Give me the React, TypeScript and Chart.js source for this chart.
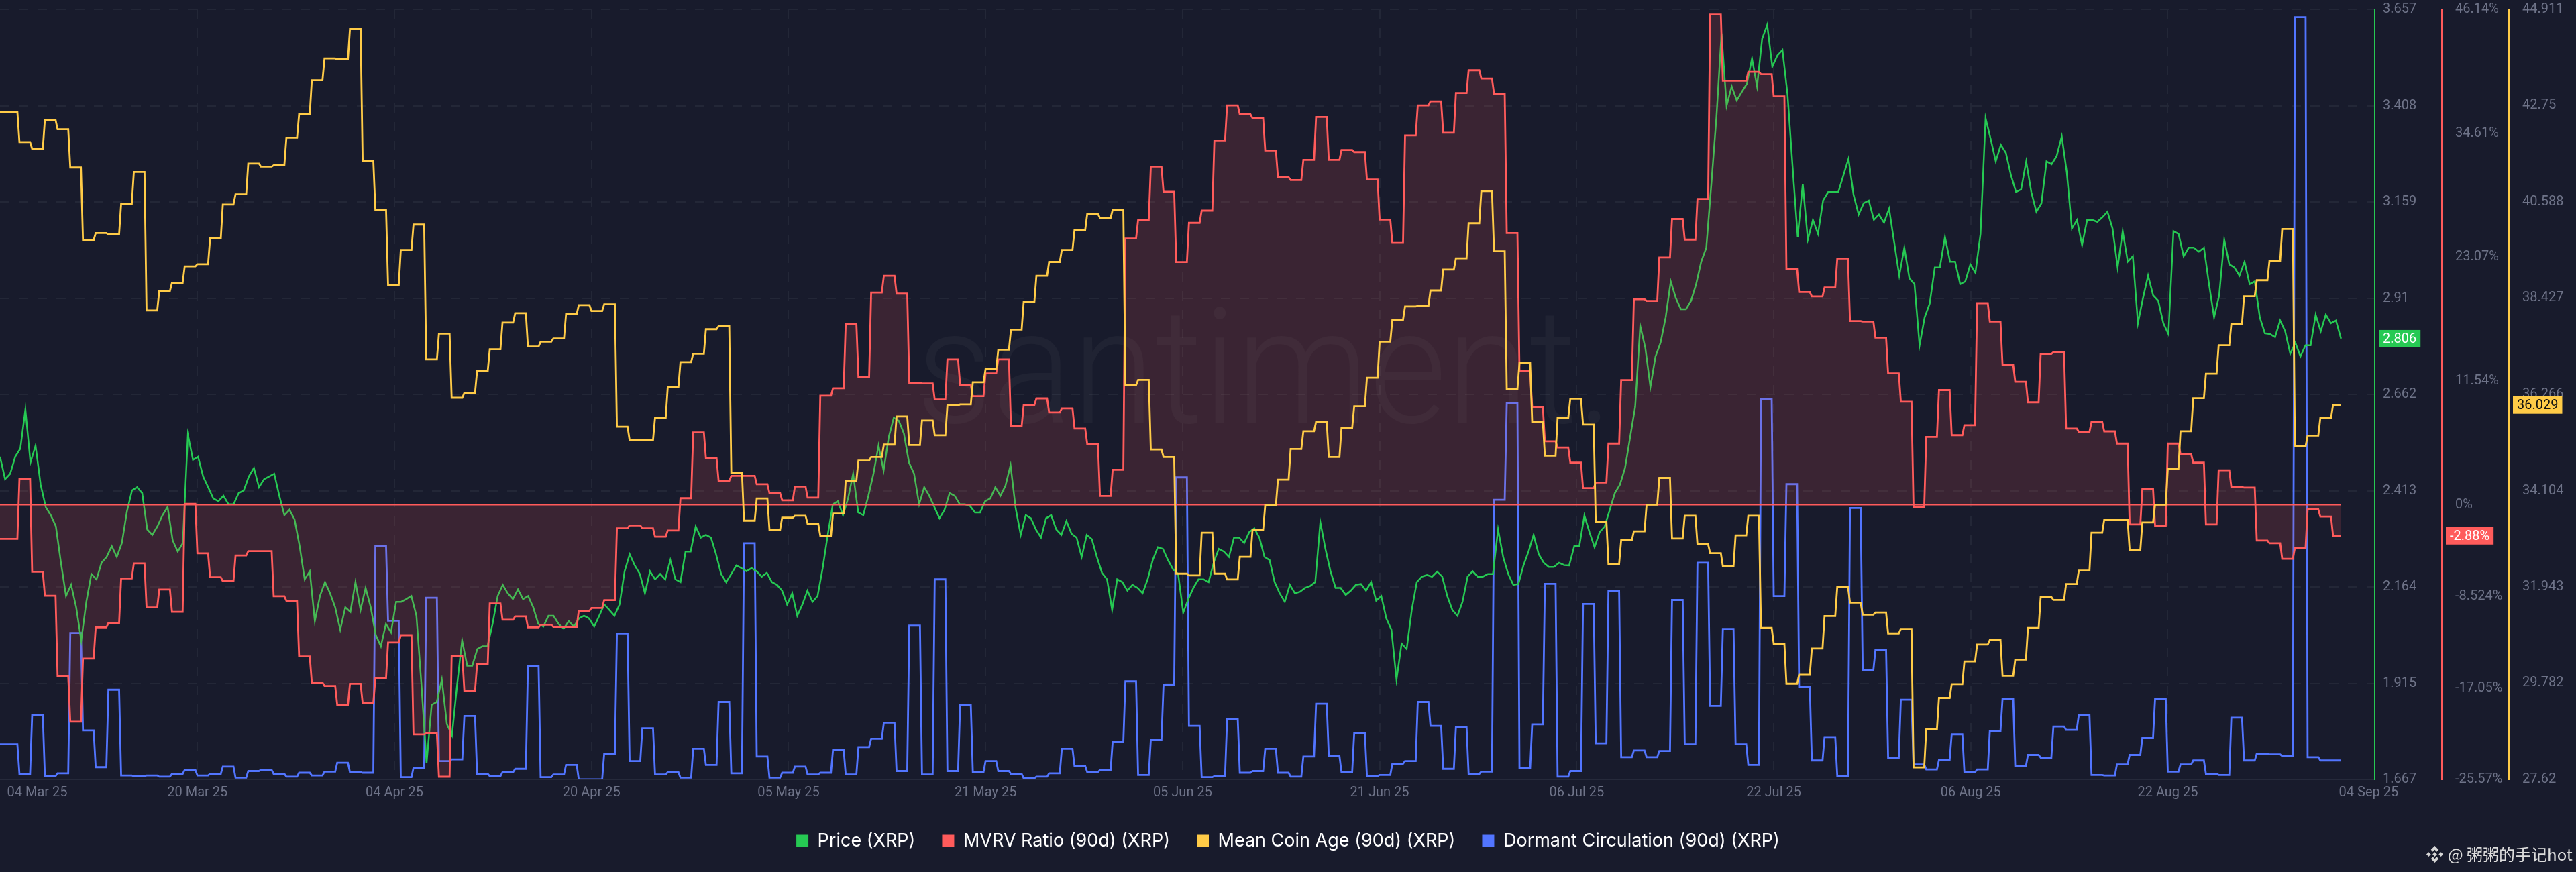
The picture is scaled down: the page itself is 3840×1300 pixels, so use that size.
import React, { useEffect, useRef } from 'react';
import { Chart, registerables } from 'chart.js';

Chart.register(...registerables);

const BG = '#181b2c';
const GREEN = '#26c953';
const RED = '#ff5b5b';
const YELLOW = '#ffcb47';
const BLUE = '#5275ff';
const TICK = '#6e7388';
const GRID = '#232737';
const FONT = 'Roboto, "Liberation Sans", sans-serif';

const seriesNames = ['Price (XRP)', 'MVRV Ratio (90d) (XRP)', 'Mean Coin Age (90d) (XRP)', 'Dormant Circulation (90d) (XRP)'];
const seriesColors = [GREEN, RED, YELLOW, BLUE];

// x axis is in days from the start of the window
const xTickDays = [3.4, 16, 31.5, 47, 62.5, 78, 93.5, 109, 124.5, 140, 155.5, 171, 186.8];
const xTickLabels = ['04 Mar 25', '20 Mar 25', '04 Apr 25', '20 Apr 25', '05 May 25', '21 May 25', '05 Jun 25', '21 Jun 25', '06 Jul 25', '22 Jul 25', '06 Aug 25', '22 Aug 25', '04 Sep 25'];

const priceTicks = [1.667, 1.915, 2.164, 2.413, 2.662, 2.91, 3.159, 3.408, 3.657];
const mvrvTicks = [-25.57, -17.05, -8.524, 0, 11.54, 23.07, 34.61, 46.14];
const mvrvTickLabels = ['-25.57%', '-17.05%', '-8.524%', '0%', '11.54%', '23.07%', '34.61%', '46.14%'];
const ageTicks = [27.62, 29.782, 31.943, 34.104, 36.266, 38.427, 40.588, 42.75, 44.911];

const meanCoinAge = [
  42.61, 42.61, 41.93, 41.78, 42.43, 42.22, 41.36, 39.73, 39.89, 39.86, 40.54, 41.26, 38.15, 38.59, 38.77, 39.14, 39.19, 39.77, 40.53, 40.76,
  41.45, 41.38, 41.41, 42.03, 42.56, 43.32, 43.81, 43.79, 44.47, 41.51, 40.41, 38.72, 39.51, 40.08, 37.05, 37.63, 36.19, 36.3, 36.79, 37.28,
  37.88, 38.09, 37.34, 37.45, 37.52, 38.07, 38.27, 38.14, 38.29, 35.54, 35.24, 35.24, 35.74, 36.43, 36.99, 37.18, 37.73, 37.8, 34.51, 33.43,
  33.93, 33.23, 33.5, 33.54, 33.36, 33.09, 33.59, 34.33, 34.78, 34.86, 35.14, 35.77, 35.13, 35.68, 35.35, 36.02, 36.04, 36.54, 36.83, 37.27,
  37.72, 38.34, 38.93, 39.24, 39.51, 39.96, 40.32, 40.23, 40.41, 36.47, 36.59, 35.03, 34.86, 32.24, 32.2, 33.16, 32.24, 32.11, 32.62, 33.23,
  33.78, 34.35, 35.04, 35.44, 35.65, 34.86, 35.51, 36, 36.64, 37.45, 37.94, 38.24, 38.25, 38.6, 39.07, 39.32, 40.11, 40.83, 39.48, 36.38,
  36.97, 35.65, 34.89, 35.74, 36.17, 35.59, 33.41, 32.46, 32.99, 33.19, 33.79, 34.39, 33.03, 33.54, 32.9, 32.7, 32.41, 33.1, 33.54, 31.02,
  30.67, 29.77, 29.97, 30.56, 31.29, 31.95, 31.59, 31.32, 31.37, 30.9, 31, 27.89, 28.75, 29.45, 29.76, 30.27, 30.65, 30.75, 29.95, 30.31,
  31.02, 31.72, 31.65, 32.01, 32.31, 33.16, 33.45, 33.45, 32.77, 33.39, 33.79, 34.6, 35.44, 36.18, 36.73, 37.37, 37.85, 38.47, 38.83, 39.27,
  39.98, 35.1, 35.34, 35.74, 36.029,
];

const mvrvRatio = [
  -3.17, -3.17, 2.44, -6.23, -8.46, -15.93, -20.19, -14.32, -11.42, -11, -6.85, -5.45, -9.55, -7.89, -9.96, 0.1, -4.51, -6.75, -7.11, -4.72,
  -4.31, -4.31, -8.51, -8.93, -14.11, -16.55, -16.86, -18.63, -16.66, -18.47, -16.14, -12.82, -12.14, -21.38, -21.27, -25.32, -14.06, -17.33, -14.84, -9.18,
  -10.69, -10.38, -11.42, -11.16, -11.36, -11.36, -9.86, -9.6, -8.87, -2.18, -1.92, -2.18, -2.96, -2.39, 0.62, 6.75, 4.36, 2.23, 2.7, 2.7,
  1.92, 1.09, 0.42, 1.71, 0.67, 10.17, 10.85, 16.86, 11.88, 19.77, 21.33, 19.67, 11.36, 11.31, 9.81, 13.54, 11.16, 10.12, 12.25, 13.54,
  7.32, 9.29, 9.91, 8.61, 8.98, 7.11, 5.66, 0.83, 3.27, 24.8, 26.52, 31.5, 29.16, 22.62, 26.26, 27.4, 33.94, 37.2, 36.37, 36.01,
  33, 30.51, 30.25, 32.12, 36.12, 32.12, 33.05, 32.85, 30.3, 26.57, 24.39, 34.4, 37.2, 37.57, 34.66, 38.35, 40.47, 39.7, 38.29, 25.32,
  12.45, 9.08, 5.92, 5.34, 3.94, 1.56, 2.08, 5.71, 11.62, 19.15, 18.99, 23.04, 26.62, 24.7, 28.49, 45.66, 39.49, 39.49, 40.32, 40.11,
  38.04, 21.95, 19.82, 19.41, 20.24, 22.94, 17.12, 17.07, 15.57, 12.25, 9.6, -0.21, 6.33, 10.69, 6.49, 7.42, 18.78, 17.07, 13.02, 11.47,
  9.55, 14.06, 14.22, 7.11, 6.8, 7.73, 6.85, 5.71, -1.82, 1.5, -1.97, 5.71, 4.72, 3.94, -1.82, 3.22, 1.66, 1.61, -3.32, -3.58,
  -5.03, -4, -0.42, -1.09, -2.88,
];

// no axis in the picture for this one, so it is on a 0-100 scale
const dormantCirculation = [
  4.56, 4.56, 0.72, 8.32, 0.43, 0.8, 19.03, 6.37, 1.59, 11.65, 0.51, 0.43, 0.51, 0.36, 0.72, 1.23, 0.51, 0.72, 1.66, 0.22,
  1.09, 1.23, 0.72, 0.36, 0.87, 0.51, 1.01, 2.17, 0.94, 0.87, 30.32, 20.62, 0.29, 1.52, 23.59, 2.39, 2.6, 8.25, 0.72, 0.43,
  0.94, 1.37, 14.69, 0.29, 0.65, 1.88, 0, 0, 3.33, 18.96, 2.39, 6.66, 0.65, 0.94, 0.22, 3.98, 1.88, 10.06, 0.8, 30.68,
  2.97, 0.22, 0.87, 1.66, 0.65, 0.87, 3.84, 0.65, 4.2, 5.28, 7.38, 1.09, 19.97, 0.65, 25.98, 1.09, 9.7, 0.94, 2.39, 1.09,
  0.72, 0.14, 0.36, 0.8, 3.98, 1.74, 0.94, 1.23, 4.92, 12.74, 0.58, 5.14, 12.3, 39.22, 6.95, 0.29, 0.43, 7.81, 0.87, 1.09,
  3.98, 0.87, 0.36, 2.97, 9.84, 3.04, 0.94, 6.01, 0.43, 0.58, 2.03, 2.39, 10.06, 6.95, 1.37, 6.8, 0.72, 1.01, 36.32, 48.84,
  1.45, 7.16, 25.4, 0.36, 1.09, 22.79, 4.7, 24.46, 2.89, 3.76, 2.89, 3.69, 23.3, 4.56, 28.15, 9.55, 19.54, 4.56, 1.88, 49.42,
  23.81, 38.35, 12.01, 2.46, 5.5, 0.43, 35.24, 14.18, 16.79, 2.82, 10.35, 1.95, 1.3, 2.53, 5.86, 0.94, 1.3, 6.3, 10.49, 1.74,
  3.18, 2.82, 6.87, 6.44, 8.39, 0.58, 0.51, 1.95, 3.18, 5.43, 10.49, 1.01, 1.95, 2.46, 0.72, 0.58, 8.03, 2.46, 3.33, 3.26,
  3.04, 98.99, 2.89, 2.46, 2.46,
];

// price is sampled more often than the on-chain metrics, evenly over the window
const priceXrp = [
  2.501, 2.443, 2.457, 2.501, 2.522, 2.623, 2.486, 2.53, 2.429, 2.371, 2.35, 2.321, 2.227, 2.141, 2.17, 2.112, 2.026, 2.126, 2.198, 2.184,
  2.227, 2.242, 2.27, 2.242, 2.278, 2.36, 2.414, 2.422, 2.407, 2.313, 2.299, 2.321, 2.35, 2.371, 2.285, 2.256, 2.278, 2.558, 2.493, 2.501,
  2.45, 2.422, 2.393, 2.386, 2.4, 2.378, 2.378, 2.407, 2.414, 2.45, 2.472, 2.422, 2.443, 2.45, 2.457, 2.4, 2.35, 2.364, 2.339, 2.27,
  2.184, 2.205, 2.076, 2.141, 2.177, 2.148, 2.112, 2.054, 2.112, 2.1, 2.177, 2.105, 2.162, 2.112, 2.04, 2.011, 2.069, 2.047, 2.126, 2.126,
  2.133, 2.141, 2.09, 1.91, 1.709, 1.86, 1.867, 1.925, 1.81, 1.781, 1.91, 2.026, 1.961, 1.961, 2.004, 2.011, 2.011, 2.069, 2.141, 2.17,
  2.148, 2.133, 2.158, 2.133, 2.141, 2.112, 2.069, 2.062, 2.09, 2.09, 2.069, 2.057, 2.076, 2.062, 2.083, 2.09, 2.083, 2.062, 2.09, 2.119,
  2.105, 2.09, 2.119, 2.205, 2.249, 2.22, 2.198, 2.148, 2.205, 2.184, 2.198, 2.184, 2.234, 2.184, 2.177, 2.256, 2.256, 2.321, 2.292, 2.299,
  2.292, 2.249, 2.198, 2.177, 2.198, 2.22, 2.213, 2.205, 2.213, 2.205, 2.191, 2.201, 2.177, 2.17, 2.155, 2.119, 2.148, 2.09, 2.119, 2.155,
  2.126, 2.141, 2.213, 2.299, 2.378, 2.386, 2.35, 2.393, 2.457, 2.357, 2.35, 2.4,
  2.457, 2.53, 2.465, 2.551, 2.602, 2.594, 2.561, 2.486, 2.457, 2.378, 2.422, 2.4, 2.371, 2.342, 2.364, 2.407, 2.4, 2.378, 2.378, 2.374,
  2.357, 2.357, 2.386, 2.393, 2.422, 2.4, 2.426, 2.479, 2.368, 2.299, 2.35, 2.342, 2.313, 2.292, 2.342, 2.35, 2.313, 2.299, 2.335, 2.302,
  2.292, 2.242, 2.299, 2.288, 2.242, 2.201, 2.184, 2.105, 2.184, 2.177, 2.155, 2.17, 2.162, 2.148, 2.184, 2.234, 2.267, 2.263, 2.234, 2.21,
  2.198, 2.098, 2.133, 2.162, 2.184, 2.184, 2.177, 2.227, 2.263, 2.256, 2.242, 2.292, 2.292, 2.278, 2.306, 2.316, 2.292, 2.242, 2.234, 2.177,
  2.148, 2.126, 2.17, 2.148, 2.152, 2.162, 2.167, 2.177, 2.332, 2.263, 2.205, 2.162, 2.162, 2.144, 2.155, 2.17, 2.172, 2.155, 2.177, 2.129,
  2.141, 2.083, 2.054, 1.925, 2.018, 2.004, 2.105, 2.177, 2.191, 2.195, 2.191, 2.204, 2.191, 2.141, 2.105, 2.09, 2.126, 2.191, 2.205, 2.191,
  2.191, 2.198, 2.198, 2.313, 2.242, 2.198, 2.17, 2.172, 2.22, 2.256, 2.299, 2.249, 2.227, 2.216, 2.216, 2.227, 2.221, 2.22, 2.27, 2.27,
  2.349, 2.306, 2.267, 2.306, 2.321, 2.364, 2.407, 2.429, 2.472, 2.551, 2.63, 2.839, 2.782, 2.681, 2.76, 2.796, 2.861, 2.954, 2.911, 2.882,
  2.882, 2.904, 2.947, 3.005, 3.041, 3.206, 3.379, 3.595, 3.408, 3.458, 3.422,
  3.444, 3.465, 3.53, 3.458, 3.581, 3.617, 3.509, 3.538, 3.552, 3.437, 3.25, 3.069, 3.206, 3.062, 3.113, 3.077, 3.163, 3.185, 3.185, 3.185,
  3.228, 3.271, 3.178, 3.127, 3.156, 3.163, 3.113, 3.127, 3.106, 3.142, 3.055, 2.969, 3.041, 2.962, 2.947, 2.789, 2.861, 2.897, 2.99, 2.99,
  3.069, 3.005, 3.005, 2.947, 2.954, 2.998, 2.976, 3.077, 3.376, 3.322, 3.264, 3.307, 3.286, 3.228, 3.185, 3.192, 3.264, 3.185, 3.134, 3.156,
  3.264, 3.257, 3.278, 3.329, 3.235, 3.091, 3.113, 3.048, 3.113, 3.113, 3.108, 3.12, 3.134, 3.091, 2.99, 3.084, 3.005, 3.019, 2.846, 2.911,
  2.969, 2.918, 2.904, 2.846, 2.818, 3.084, 3.077, 3.019, 3.041, 3.041, 3.031, 3.041, 2.947, 2.861, 2.918, 3.062, 2.998, 2.99, 2.969, 3.005,
  2.947, 2.954, 2.861, 2.82, 2.818, 2.81, 2.853, 2.825, 2.767, 2.796, 2.76, 2.789, 2.789, 2.868, 2.825, 2.868, 2.846, 2.853, 2.806,
];

const X_MIN = 0.472;
const X_MAX = 187.28;
const LAST_DAY = 184.63;

// the metrics hold a daily value and move to the next one in the last part of the day
const dailySteps = (values: number[]) =>
  values.flatMap((y, i) => [
    { x: i, y },
    { x: Math.min(i + 0.84, LAST_DAY), y },
  ]);

const priceStep = (LAST_DAY - X_MIN) / (priceXrp.length - 1);
const pricePoints = priceXrp.map((y, i) => ({ x: X_MIN + i * priceStep, y }));

const lastValueBadges = [
  { scale: 'price', value: priceXrp[priceXrp.length - 1], text: '2.806', fill: GREEN, color: '#fff' },
  { scale: 'mvrv', value: mvrvRatio[mvrvRatio.length - 1], text: '-2.88%', fill: RED, color: '#fff' },
  { scale: 'age', value: meanCoinAge[meanCoinAge.length - 1], text: '36.029', fill: YELLOW, color: '#111' },
];

const santimentMark = {
  id: 'santimentMark',
  beforeDatasetsDraw(chart: Chart) {
    const { ctx } = chart;
    ctx.save();
    ctx.translate(1885, 630);
    ctx.scale(0.93, 1);
    ctx.font = `300 240px ${FONT}`;
    ctx.fillStyle = 'rgba(255,255,255,0.035)';
    ctx.textAlign = 'center';
    ctx.textBaseline = 'alphabetic';
    ctx.fillText('santiment.', 0, 0);
    ctx.restore();
  },
};

const badgePlugin = {
  id: 'lastValueBadges',
  afterDraw(chart: Chart) {
    const { ctx } = chart;
    ctx.save();
    ctx.font = `20px ${FONT}`;
    ctx.textBaseline = 'middle';
    ctx.textAlign = 'left';
    lastValueBadges.forEach((b) => {
      const scale = chart.scales[b.scale];
      const y = scale.getPixelForValue(b.value);
      const w = ctx.measureText(b.text).width + 12;
      ctx.fillStyle = b.fill;
      ctx.fillRect(scale.left + 6, y - 13, w, 26);
      ctx.fillStyle = b.color;
      ctx.fillText(b.text, scale.left + 12, y + 1);
    });
    ctx.restore();
  },
};

const yAxis = (weight: number, color: string, min: number, max: number, ticks: number[], labels?: string[]) => ({
  type: 'linear' as const,
  position: 'right' as const,
  weight,
  min,
  max,
  afterFit: (scale: any) => {
    scale.width = 100;
    // the top label may run past the plot, do not let it push the plot down
    scale.paddingTop = 0;
    scale.paddingBottom = 0;
  },
  afterBuildTicks: (scale: any) => {
    scale.ticks = ticks.map((value) => ({ value }));
  },
  grid: { display: false },
  border: { color, width: 2 },
  ticks: {
    color: TICK,
    font: { family: FONT, size: 20 },
    padding: 12,
    autoSkip: false,
    callback: (value: any, index: number) => (labels ? labels[index] : String(value)),
  },
});

const App: React.FC = () => {
  const canvasRef = useRef<HTMLCanvasElement | null>(null);

  useEffect(() => {
    if (!canvasRef.current) return;

    const chart = new Chart(canvasRef.current, {
      type: 'line',
      data: {
        datasets: [
          { label: seriesNames[0], data: pricePoints, yAxisID: 'price', borderColor: GREEN, borderWidth: 2.5, pointRadius: 0, order: 3 },
          {
            label: seriesNames[1],
            data: dailySteps(mvrvRatio),
            yAxisID: 'mvrv',
            borderColor: RED,
            backgroundColor: 'rgba(255,91,91,0.15)',
            fill: { value: 0 },
            borderWidth: 2.8,
            pointRadius: 0,
            order: 2,
          },
          { label: seriesNames[2], data: dailySteps(meanCoinAge), yAxisID: 'age', borderColor: YELLOW, borderWidth: 2.8, pointRadius: 0, order: 1 },
          { label: seriesNames[3], data: dailySteps(dormantCirculation), yAxisID: 'dormant', borderColor: BLUE, borderWidth: 2.8, pointRadius: 0, order: 4 },
          // zero line of the MVRV area
          { label: 'zero', data: [{ x: X_MIN, y: 0 }, { x: LAST_DAY, y: 0 }], yAxisID: 'mvrv', borderColor: RED, borderWidth: 1.5, pointRadius: 0, order: 2 },
        ],
      },
      options: {
        animation: false,
        responsive: false,
        devicePixelRatio: 1,
        events: [],
        layout: { padding: { top: 14, left: 0, right: 0, bottom: 23 } },
        scales: {
          x: {
            type: 'linear',
            min: X_MIN,
            max: X_MAX,
            afterFit: (scale: any) => {
              scale.height = 38;
            },
            afterBuildTicks: (scale: any) => {
              scale.ticks = xTickDays.map((value) => ({ value }));
            },
            grid: {
              drawTicks: false,
              lineWidth: 2,
              color: (c: any) => (c.index === 0 || c.index === xTickDays.length - 1 ? 'transparent' : GRID),
            },
            border: { color: '#262a3b', width: 2, dash: [14, 14] },
            ticks: {
              color: TICK,
              font: { family: FONT, size: 20 },
              padding: 8,
              autoSkip: false,
              maxRotation: 0,
              callback: (_value: any, index: number) => xTickLabels[index],
            },
          },
          price: {
            ...yAxis(1, GREEN, 1.667, 3.657, priceTicks),
            grid: { display: true, drawTicks: false, color: GRID, lineWidth: 2 },
            border: { color: GREEN, width: 2, dash: [14, 14] },
          },
          mvrv: yAxis(2, RED, -25.57, 46.14, mvrvTicks, mvrvTickLabels),
          age: yAxis(3, YELLOW, 27.62, 44.911, ageTicks),
          dormant: { type: 'linear', display: false, min: 0, max: 100 },
        },
        plugins: {
          tooltip: { enabled: false },
          legend: {
            position: 'bottom',
            labels: {
              color: '#ffffff',
              font: { family: 'Inter, Roboto, sans-serif', size: 27 },
              boxWidth: 18,
              boxHeight: 18,
              padding: 40,
              generateLabels: () =>
                seriesNames.map((text, i) => ({
                  text,
                  fillStyle: seriesColors[i],
                  strokeStyle: seriesColors[i],
                  lineWidth: 0,
                  fontColor: '#ffffff',
                  datasetIndex: i,
                })),
            },
          },
        },
      },
      plugins: [santimentMark, badgePlugin],
    });

    return () => {
      chart.destroy();
    };
  }, []);

  return (
    <div style={{ position: 'fixed', left: 0, top: 0, width: 3840, height: 1300, background: BG, overflow: 'hidden' }}>
      <canvas ref={canvasRef} width={3840} height={1300} style={{ display: 'block' }}></canvas>
      <div
        style={{
          position: 'absolute',
          left: 3616,
          top: 1258,
          display: 'flex',
          alignItems: 'center',
          gap: 6,
          color: '#dcdcdc',
          font: '24px "Noto Sans CJK SC", sans-serif',
          lineHeight: '30px',
          whiteSpace: 'nowrap',
        }}
      >
        <svg width="27" height="27" viewBox="0 0 28 28">
          <path fill="#d6d6d6" d="M14 1 L20 7 L17 10 L14 7 L11 10 L8 7 Z M14 27 L8 21 L11 18 L14 21 L17 18 L20 21 Z M1 14 L4.5 10.5 L8 14 L4.5 17.5 Z M20 14 L23.5 10.5 L27 14 L23.5 17.5 Z M14 10.5 L17.5 14 L14 17.5 L10.5 14 Z" />
        </svg>
        <span>@ 粥粥的手记hot</span>
      </div>
    </div>
  );
};

export default App;
